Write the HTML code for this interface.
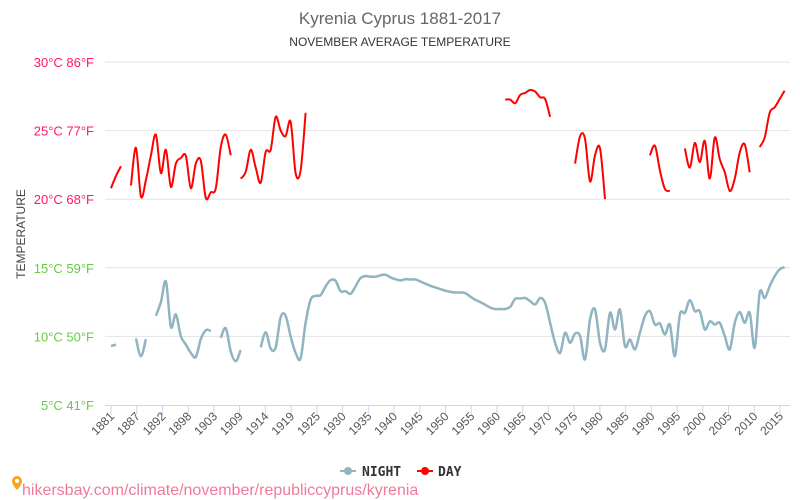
<!DOCTYPE html>
<html><head><meta charset="utf-8"><style>
body{margin:0;background:#fff;}
svg{display:block;font-family:"Liberation Sans",sans-serif;}
</style></head><body>
<svg id="chart" width="800" height="500" viewBox="0 0 800 500" xmlns="http://www.w3.org/2000/svg">
<text x="400" y="24" text-anchor="middle" font-size="17" fill="#666">Kyrenia Cyprus 1881-2017</text>
<text x="400" y="46" text-anchor="middle" font-size="12" fill="#333">NOVEMBER AVERAGE TEMPERATURE</text>
<text transform="translate(25,234) rotate(-90)" text-anchor="middle" font-size="12" fill="#444">TEMPERATURE</text>
<g id="grid"></g><g id="ylabels"></g><g id="xaxis"></g><g id="series"></g>
<g>
<g>
<line x1="340" y1="471" x2="356" y2="471" stroke="#90b4c0" stroke-width="2"/><circle cx="348" cy="471" r="4" fill="#90b4c0"/>
<text x="362" y="476" font-size="13" font-weight="bold" fill="#333" font-family="'DejaVu Sans Mono',monospace">NIGHT</text></g>
<g>
<line x1="417" y1="471" x2="433" y2="471" stroke="#ff0000" stroke-width="2"/><circle cx="425" cy="471" r="4" fill="#ff0000"/>
<text x="438" y="476" font-size="13" font-weight="bold" fill="#333" font-family="'DejaVu Sans Mono',monospace">DAY</text></g>
</g>
<g>
<path d="M12 481a5 5 0 0 1 10 0c0 4-5 9-5 9s-5-5-5-9z" fill="#f5a623"/><circle cx="17" cy="481" r="2" fill="#fff"/>
<text x="22" y="495" font-size="16" fill="#f07a9a">hikersbay.com/climate/november/republiccyprus/kyrenia</text></g>
</svg>
<script>
const years=[];for(let y=1881;y<=2017;y++)years.push(y);
const yTicks=[5,10,15,20,25,30];
const xTickLabels=[1881,1887,1892,1898,1903,1909,1914,1919,1925,1930,1935,1940,1945,1950,1955,1960,1965,1970,1975,1980,1985,1990,1995,2000,2005,2010,2015];
const N=null;
const dayValues=[20.8,21.7,22.4,N,21.0,23.75,20.2,21.4,23.2,24.7,21.9,23.6,20.9,22.6,23.0,23.15,20.8,22.6,22.8,20.1,20.5,20.8,23.8,24.7,23.2,N,21.5,22.0,23.6,22.3,21.2,23.45,23.6,26.0,25.0,24.6,25.65,21.9,22.1,26.3,
N,N,N,N,N,N,N,N,N,N,N,N,N,N,N,N,N,N,N,N,N,N,N,N,N,N,N,N,N,N,N,N,N,N,N,N,N,N,N,
27.26,27.26,27.0,27.6,27.75,27.96,27.84,27.43,27.3,26.0,N,N,N,N,22.6,24.6,24.4,21.3,23.2,23.7,20.0,N,N,N,N,N,N,N,N,23.2,23.9,22.1,20.75,20.6,N,N,23.7,22.3,24.1,22.7,24.25,21.5,24.5,22.9,21.96,20.6,21.5,23.4,24.0,21.96,N,23.8,24.5,26.3,26.7,27.3,27.9,N];
const nightValues=[9.3,9.4,N,N,N,9.85,8.55,9.8,N,11.5,12.5,14.0,10.7,11.6,10.0,9.4,8.8,8.5,9.8,10.45,10.4,N,9.9,10.6,8.9,8.2,9.0,N,N,N,9.2,10.3,9.1,9.2,11.4,11.5,10.0,8.8,8.4,11.0,12.67,12.96,13.0,13.64,14.1,14.05,13.3,13.3,13.1,13.64,14.25,14.4,14.35,14.35,14.45,14.5,14.3,14.17,14.08,14.17,14.15,14.15,14.0,13.84,13.69,13.57,13.45,13.33,13.25,13.2,13.2,13.15,12.9,12.67,12.5,12.3,12.1,12.0,12.0,12.0,12.16,12.74,12.76,12.8,12.57,12.33,12.8,12.45,10.99,9.53,8.8,10.26,9.53,10.21,10.02,8.32,11.23,11.96,9.53,9.05,11.72,10.5,11.96,9.29,9.78,9.05,10.26,11.48,11.84,10.87,10.94,10.14,10.87,8.56,11.6,11.72,12.64,11.84,11.84,10.5,11.1,10.87,10.99,10.02,9.05,10.99,11.77,10.99,11.72,9.17,13.18,12.8,13.66,14.39,14.88,15.05];
const NS="http://www.w3.org/2000/svg";
const X=y=>111+(y-1881)*4.99;
const Y=t=>405-(t-5)*13.72;
function mk(tag,attrs,parent){const e=document.createElementNS(NS,tag);for(const k in attrs)e.setAttribute(k,attrs[k]);parent.appendChild(e);return e;}
const grid=document.getElementById('grid'),yl=document.getElementById('ylabels'),xa=document.getElementById('xaxis'),se=document.getElementById('series');
yTicks.forEach(t=>{
  if(t>5){const g=mk('line',{x1:105,x2:790,y1:Y(t),y2:Y(t),stroke:'#e3e3e3','stroke-width':1},grid);
  
  }
  const tx=mk('text',{x:94,y:Y(t)+5,'text-anchor':'end','font-size':13,fill:t>=20?'#ff1a5e':'#66cc44'},yl);
  tx.textContent=t+'°C '+Math.round(t*9/5+32)+'°F';
  
  
});
const ax=mk('line',{x1:105,x2:790,y1:405.5,y2:405.5,stroke:'#ccd6eb','stroke-width':1},xa);


xTickLabels.forEach((yr,i)=>{
  const xp=111+i*25.73;
  const tk=mk('line',{x1:xp,x2:xp,y1:405,y2:415,stroke:'#ccd6eb'},xa);
  
  
  const tx=mk('text',{transform:`translate(${xp+4},${417}) rotate(-45)`,'text-anchor':'end','font-size':12,fill:'#555'},xa);
  tx.textContent=yr;
  
  
});
function path(vals){
  let d='';let seg=[];
  const flush=()=>{if(seg.length){d+='M'+seg[0][0]+' '+seg[0][1];
    for(let i=0;i<seg.length-1;i++){const p0=seg[i-1]||seg[i],p1=seg[i],p2=seg[i+1],p3=seg[i+2]||p2;
      const c1x=p1[0]+(p2[0]-p0[0])/6,c1y=p1[1]+(p2[1]-p0[1])/6,c2x=p2[0]-(p3[0]-p1[0])/6,c2y=p2[1]-(p3[1]-p1[1])/6;
      d+=`C${c1x.toFixed(1)} ${c1y.toFixed(1)} ${c2x.toFixed(1)} ${c2y.toFixed(1)} ${p2[0].toFixed(1)} ${p2[1].toFixed(1)}`;}
    }seg=[];};
  vals.forEach((v,i)=>{if(v==null)flush();else seg.push([X(years[i]),Y(v)]);});flush();return d;
}
const n=mk('path',{d:path(nightValues),fill:'none',stroke:'#90b4c0','stroke-width':2.5,'stroke-linejoin':'round'},se);


const dl=mk('path',{d:path(dayValues),fill:'none',stroke:'#ff0000','stroke-width':2,'stroke-linejoin':'round'},se);


</script>
</body></html>
